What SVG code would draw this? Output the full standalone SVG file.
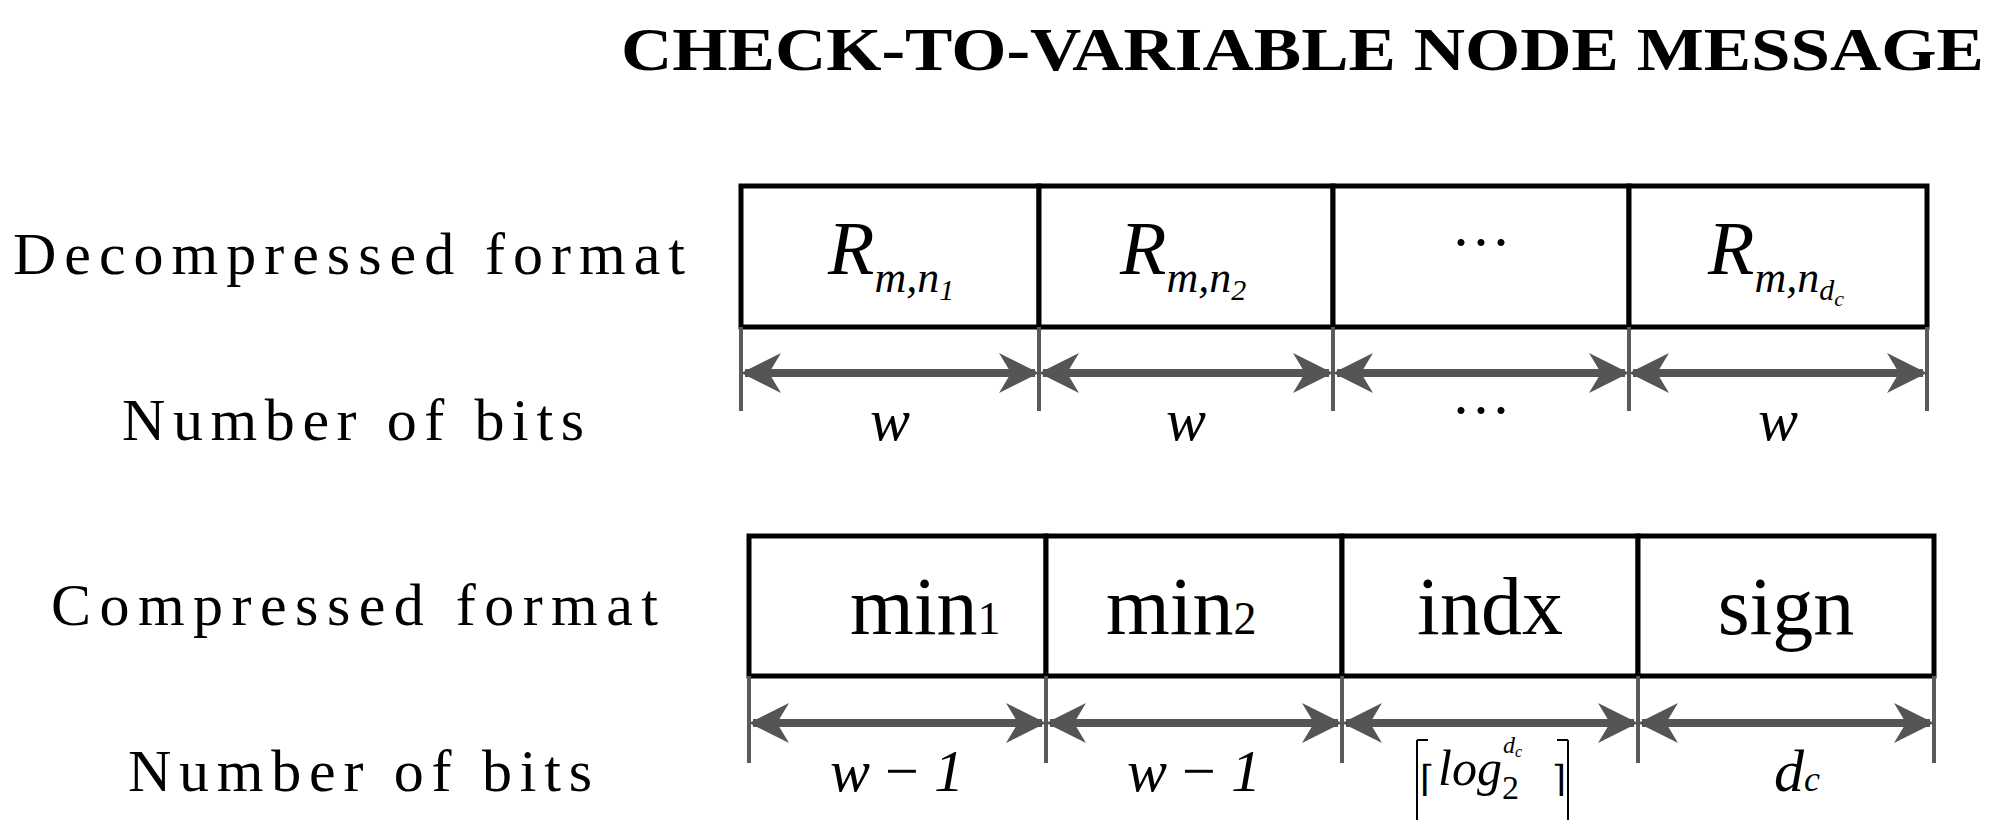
<svg xmlns="http://www.w3.org/2000/svg" width="2001" height="831" viewBox="0 0 2001 831">
<defs>
<style>
.s{font-family:"Liberation Serif","DejaVu Serif",serif;fill:#000}
.lab{font-size:60px}
.it{font-style:italic}
.box{fill:#fff;stroke:#000;stroke-width:5}
.tick{stroke:#5a5a5a;stroke-width:4}
.arr{stroke:#555;stroke-width:8;fill:none;marker-start:url(#a);marker-end:url(#a)}
</style>
<marker id="a" viewBox="0 0 10 10" refX="9" refY="5" markerWidth="5" markerHeight="5" orient="auto-start-reverse" markerUnits="strokeWidth"><path d="M0,0 L10,5 L0,10 L3,5 Z" fill="#555"/></marker>
</defs>
<text class="s" x="621" y="70" font-size="62" font-weight="bold" textLength="1363" lengthAdjust="spacingAndGlyphs">CHECK-TO-VARIABLE NODE MESSAGE</text>
<g id="labels">
<text class="s lab" x="13" y="274" textLength="672">Decompressed format</text>
<text class="s lab" x="122" y="440" textLength="462">Number of bits</text>
<text class="s lab" x="51" y="625" textLength="607">Compressed format</text>
<text class="s lab" x="128" y="791" textLength="464">Number of bits</text>
</g>
<g id="top-boxes">
<g id="r1"><rect class="box" x="741" y="186" width="298" height="141"/><text class="s it" x="828" y="274" font-size="76">R<tspan font-size="44" dy="18">m,n</tspan><tspan font-size="30" dy="8">1</tspan></text></g>
<g id="r2"><rect class="box" x="1039" y="186" width="294" height="141"/><text class="s it" x="1120" y="274" font-size="76">R<tspan font-size="44" dy="18">m,n</tspan><tspan font-size="30" dy="8">2</tspan></text></g>
<g id="r3"><rect class="box" x="1333" y="186" width="296" height="141"/><text class="s" x="1481" y="262" font-size="60" text-anchor="middle">···</text></g>
<g id="r4"><rect class="box" x="1629" y="186" width="298" height="141"/><text class="s it" x="1708" y="274" font-size="76">R<tspan font-size="44" dy="18">m,n</tspan><tspan font-size="30" dy="8">d</tspan><tspan font-size="22" dy="6">c</tspan></text></g>
</g>
<g id="bottom-boxes">
<g id="c1"><rect class="box" x="749" y="536" width="297" height="140"/><text class="s" x="850" y="634" font-size="82">min<tspan font-size="46">1</tspan></text></g>
<g id="c2"><rect class="box" x="1046" y="536" width="296" height="140"/><text class="s" x="1106" y="634" font-size="82">min<tspan font-size="46">2</tspan></text></g>
<g id="c3"><rect class="box" x="1342" y="536" width="296" height="140"/><text class="s" x="1490" y="634" font-size="82" text-anchor="middle">indx</text></g>
<g id="c4"><rect class="box" x="1638" y="536" width="296" height="140"/><text class="s" x="1786" y="634" font-size="82" text-anchor="middle">sign</text></g>
</g>
<g id="connectors">
<line class="tick" x1="741" y1="327" x2="741" y2="411"/><line class="tick" x1="1039" y1="327" x2="1039" y2="411"/><line class="tick" x1="1333" y1="327" x2="1333" y2="411"/><line class="tick" x1="1629" y1="327" x2="1629" y2="411"/><line class="tick" x1="1927" y1="327" x2="1927" y2="411"/>
<line class="arr" x1="745" y1="373" x2="1035" y2="373"/><line class="arr" x1="1043" y1="373" x2="1329" y2="373"/><line class="arr" x1="1337" y1="373" x2="1625" y2="373"/><line class="arr" x1="1633" y1="373" x2="1923" y2="373"/>
<line class="tick" x1="749" y1="676" x2="749" y2="763"/><line class="tick" x1="1046" y1="676" x2="1046" y2="763"/><line class="tick" x1="1342" y1="676" x2="1342" y2="763"/><line class="tick" x1="1638" y1="676" x2="1638" y2="763"/><line class="tick" x1="1934" y1="676" x2="1934" y2="763"/>
<line class="arr" x1="753" y1="723" x2="1042" y2="723"/><line class="arr" x1="1050" y1="723" x2="1338" y2="723"/><line class="arr" x1="1346" y1="723" x2="1634" y2="723"/><line class="arr" x1="1642" y1="723" x2="1930" y2="723"/>
</g>
<g id="bit-labels">
<text class="s it" x="890" y="440" font-size="60" text-anchor="middle">w</text>
<text class="s it" x="1186" y="440" font-size="60" text-anchor="middle">w</text>
<text class="s" x="1481" y="430" font-size="60" text-anchor="middle">···</text>
<text class="s it" x="1778" y="440" font-size="60" text-anchor="middle">w</text>
<text class="s it" x="897" y="791" font-size="60" text-anchor="middle">w <tspan font-style="normal">−</tspan> 1</text>
<text class="s it" x="1194" y="791" font-size="60" text-anchor="middle">w <tspan font-style="normal">−</tspan> 1</text>
<text class="s" x="1420" y="791" font-size="36">⌈</text>
<text class="s it" x="1438" y="785" font-size="50">log<tspan font-style="normal" font-size="34" dy="14">2</tspan><tspan font-size="24" dx="-16" dy="-46">d</tspan><tspan font-size="16" dy="4">c</tspan></text>
<text class="s" x="1552" y="791" font-size="36">⌉</text>
<line x1="1417" y1="740" x2="1417" y2="820" stroke="#000" stroke-width="2"/><line x1="1417" y1="740" x2="1428" y2="740" stroke="#000" stroke-width="2"/>
<line x1="1568" y1="740" x2="1568" y2="820" stroke="#000" stroke-width="2"/><line x1="1557" y1="740" x2="1568" y2="740" stroke="#000" stroke-width="2"/>
<text class="s it" x="1774" y="791" font-size="60">d<tspan font-size="36">c</tspan></text>
</g>
</svg>
